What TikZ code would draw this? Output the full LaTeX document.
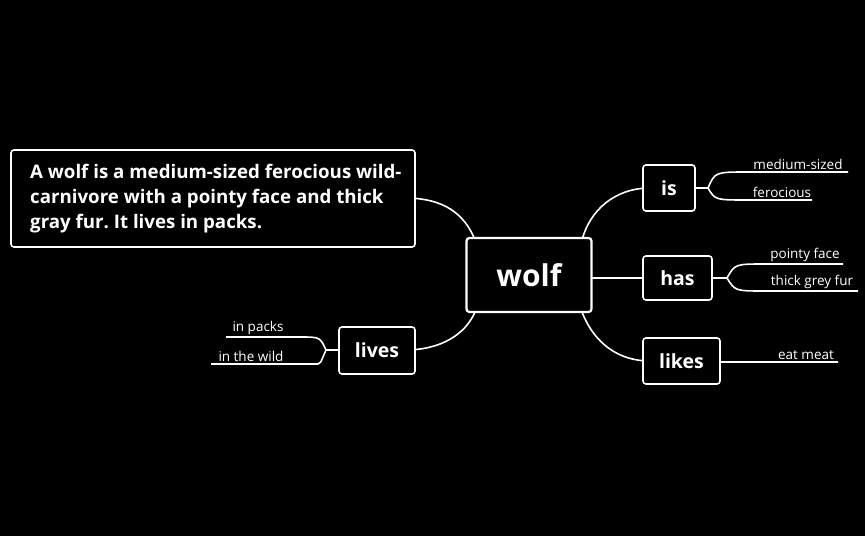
\documentclass[tikz,border=0pt]{standalone}
\usepackage{fontspec}
\setmainfont{Open Sans}
\begin{document}
\frenchspacing
\begin{tikzpicture}[x=1pt,y=-1pt,
  box/.style={draw=white,line width=1.6pt,rounded corners=3pt,fill=black,text=white,font=\bfseries,inner sep=0pt},
  lk/.style={draw=white,line width=1.6pt},
  leaf/.style={text=white,font=\fontsize{13.5}{15}\selectfont,inner sep=1pt,anchor=south}]
\fill[black] (0,0) rectangle (865,536);
\useasboundingbox (0,0) rectangle (865,536);
% coordinates
\coordinate (isF) at (708,188);
\coordinate (hasF) at (727,278);
\coordinate (livF) at (326,350);
\coordinate (l1a) at (748,172); \coordinate (l1b) at (848,172);
\coordinate (l2a) at (748,200); \coordinate (l2b) at (812,200);
\coordinate (l3a) at (765,264); \coordinate (l3b) at (843,264);
\coordinate (l4a) at (765,291); \coordinate (l4b) at (858,291);
\coordinate (l5a) at (720,362); \coordinate (l5b) at (838,362);
\coordinate (l6a) at (300,337); \coordinate (l6b) at (226,337);
\coordinate (l7a) at (318,364); \coordinate (l7b) at (211,364);
% connectors (drawn first, boxes cover their ends)
\draw[lk] (582,240) .. controls (590,210) and (615,188) .. (650,188);
\draw[lk] (585,278) .. controls (615,278) .. (650,278);
\draw[lk] (582,312) .. controls (595,345) and (620,361) .. (650,361);
\draw[lk] (475,312) .. controls (465,335) and (440,350) .. (405,350);
\draw[lk] (475,240) .. controls (465,215) and (445,198) .. (405,198);
\draw[lk] (690,188) -- (isF);
\draw[lk] (isF) .. controls (715,172) .. (l1a) -- (l1b);
\draw[lk] (isF) .. controls (715,200) .. (l2a) -- (l2b);
\draw[lk] (705,278) -- (hasF);
\draw[lk] (hasF) .. controls (735,264) .. (l3a) -- (l3b);
\draw[lk] (hasF) .. controls (735,291) .. (l4a) -- (l4b);
\draw[lk] (710,361) -- (l5a) -- (l5b);
\draw[lk] (345,350) -- (livF);
\draw[lk] (livF) .. controls (320,337) .. (l6a) -- (l6b);
\draw[lk] (livF) .. controls (320,364) .. (l7a) -- (l7b);
% nodes
\node[box,minimum width=125pt,minimum height=74pt,line width=2.2pt,font=\bfseries\fontsize{30}{34}\selectfont] (wolf) at (529,275) {wolf};
\node[box,minimum width=52pt,minimum height=46pt,font=\bfseries\fontsize{19.5}{22}\selectfont] (is) at (669,188) {is};
\node[box,minimum width=69pt,minimum height=44pt,font=\bfseries\fontsize{19.5}{22}\selectfont] (has) at (677.5,278) {has};
\node[box,minimum width=77pt,minimum height=46pt,font=\bfseries\fontsize{19.5}{22}\selectfont] (likes) at (681.5,361) {likes};
\node[box,minimum width=76pt,minimum height=47pt,font=\bfseries\fontsize{19.5}{22}\selectfont] (lives) at (377,350.5) {lives};
\node[box,minimum width=404pt,minimum height=97pt] (desc) at (213,198.5) {};
\node[text=white,align=left,anchor=west,inner sep=0pt,font=\bfseries\fontsize{18.7}{25}\selectfont] (desctext) at (30,198.5)
 {A wolf is a medium-sized ferocious wild-\\carnivore with a pointy face and thick\\gray fur. It lives in packs.};
% labels
\node[leaf] (t1) at (798,171) {medium-sized};
\node[leaf] (t2) at (782,199) {ferocious};
\node[leaf] (t3) at (805,263) {pointy face};
\node[leaf] (t4) at (812,290) {thick grey fur};
\node[leaf] (t5) at (806,361) {eat meat};
\node[leaf] (t6) at (258,336) {in packs};
\node[leaf] (t7) at (251,363) {in the wild};
\end{tikzpicture}
\end{document}
